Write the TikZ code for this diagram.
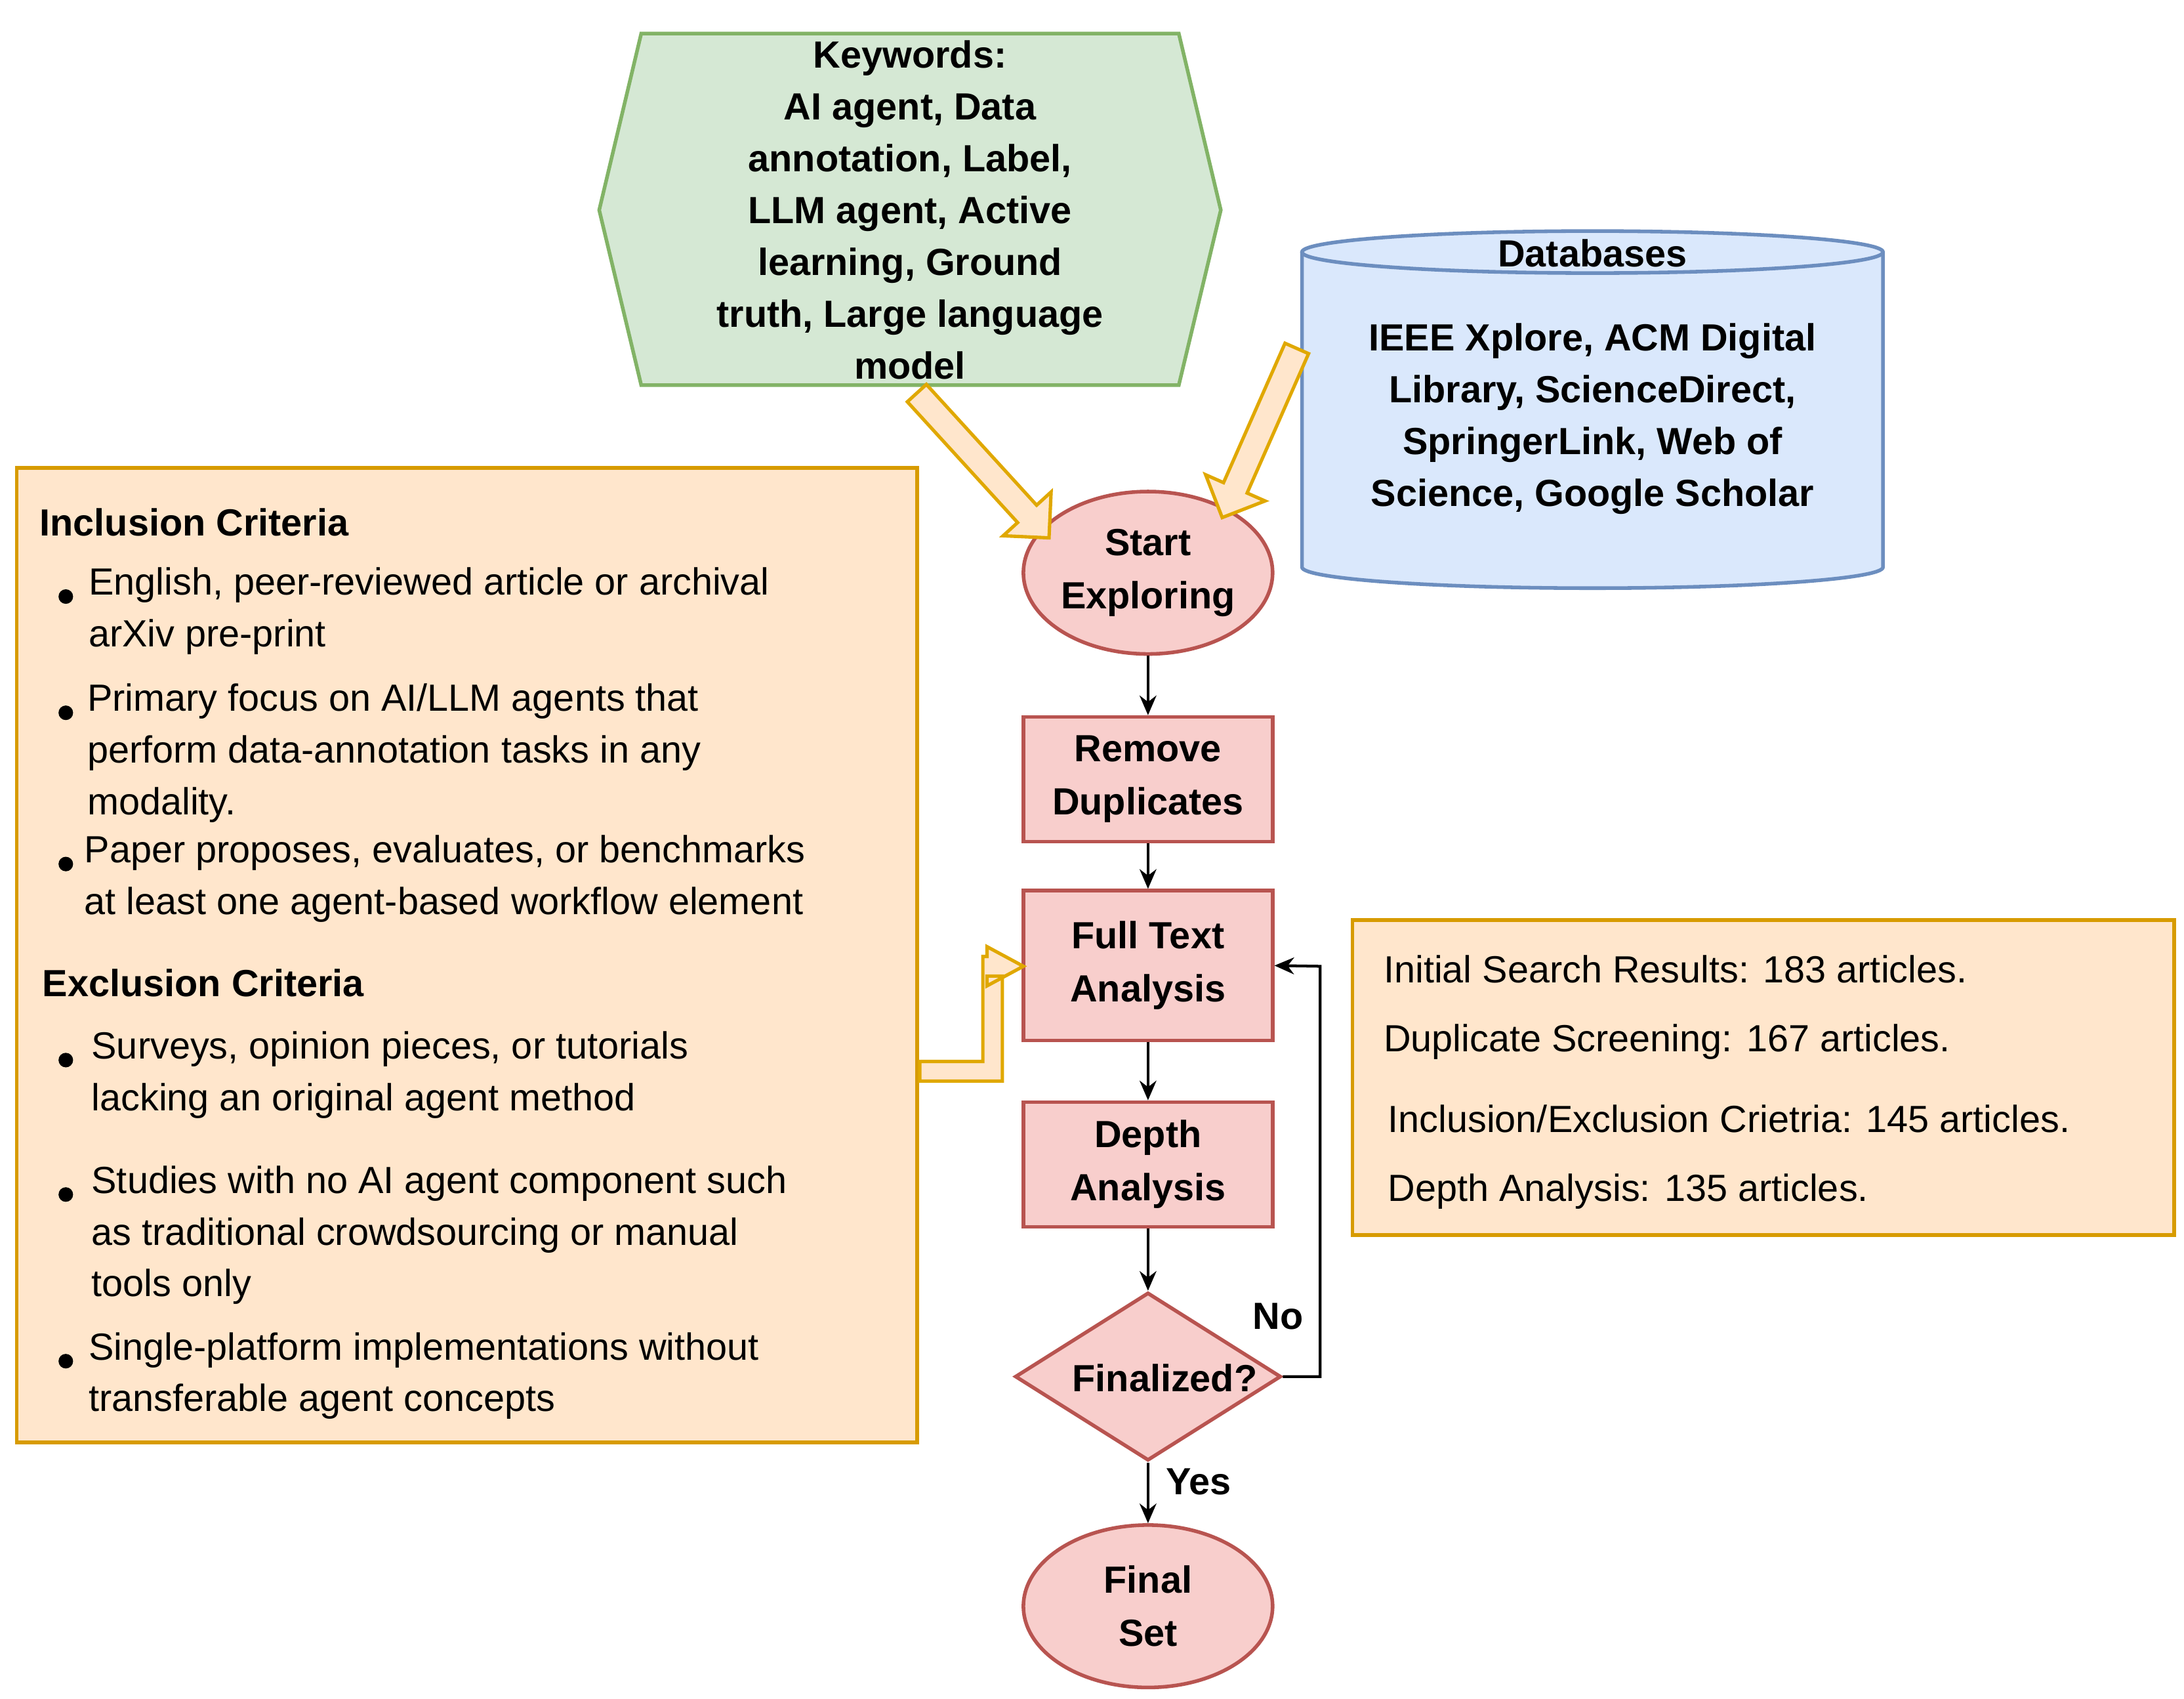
\documentclass[tikz,border=0pt]{standalone}
\usepackage{fontspec}
\setmainfont{Liberation Sans}
\usetikzlibrary{shapes.geometric,shapes.arrows,arrows.meta}
\begin{document}
\begin{tikzpicture}[x=0.5pt,y=-0.5pt,
  red/.style={draw=red!50!black!70!white,draw=rd,fill=rf,line width=1.3pt},
  box/.style={draw=ob,fill=of,line width=1.3pt},
  fat/.style={draw=ab,fill=of,line width=1.2pt},
  txt/.style={font=\fontsize{13.5}{18.5}\selectfont,inner sep=0pt},
  btxt/.style={font=\bfseries\fontsize{13.5}{19}\selectfont,inner sep=0pt,align=center},
  con/.style={-{Stealth[length=7pt,width=6pt]},line width=1pt}]
\definecolor{rd}{HTML}{B85450}\definecolor{rf}{HTML}{F8CECC}
\definecolor{ob}{HTML}{D79B00}\definecolor{of}{HTML}{FFE6CC}
\definecolor{ab}{HTML}{E0A800}
\definecolor{gb}{HTML}{82B366}\definecolor{gf}{HTML}{D5E8D4}
\definecolor{bb}{HTML}{6C8EBF}\definecolor{bf}{HTML}{DAE8FC}
\useasboundingbox (0,0) rectangle (1560,1213);
% keywords hexagon
\draw[draw=gb,fill=gf,line width=1.3pt] (428,150) -- (458,24) -- (842,24) -- (872,150) -- (842,275) -- (458,275) -- cycle;
\node[btxt,font=\bfseries\fontsize{13.5}{18.5}\selectfont] (kw) at (650,150) {Keywords:\\AI agent, Data\\annotation, Label,\\LLM agent, Active\\learning, Ground\\truth, Large language\\model};
% database cylinder
\draw[draw=bb,fill=bf,line width=1.3pt] (930,180) -- (930,405) arc[start angle=180,end angle=360,x radius=103.75pt,y radius=7.5pt] -- (1345,180);
\draw[draw=bb,fill=bf,line width=1.3pt] (1137.5,180) ellipse[x radius=103.75pt,y radius=7.5pt];
\node[btxt] (dbt) at (1137.5,181) {Databases};
\node[btxt,font=\bfseries\fontsize{13.5}{18.5}\selectfont] (db) at (1137.5,299) {IEEE Xplore, ACM Digital\\Library, ScienceDirect,\\SpringerLink, Web of\\Science, Google Scholar};
% flow nodes
\node[red,ellipse,minimum width=89pt,minimum height=58pt,btxt] (start) at (820,409) {Start\\Exploring};
\node[red,rectangle,minimum width=89pt,minimum height=44.5pt,btxt] (rem) at (820,556.5) {Remove\\Duplicates};
\node[red,rectangle,minimum width=89pt,minimum height=53.5pt,btxt] (full) at (820,689.5) {Full Text\\Analysis};
\node[red,rectangle,minimum width=89pt,minimum height=44.5pt,btxt] (depth) at (820,831.5) {Depth\\Analysis};
\node[red,diamond,aspect=1.58,minimum width=95pt,minimum height=60pt,inner sep=0pt,btxt] (fin) at (820,983) {};
\node[btxt] (fint) at (832,984) {Finalized?};
\node[red,ellipse,minimum width=89pt,minimum height=58pt,btxt] (final) at (820,1147) {Final\\Set};
% connectors
\draw[con] (start) -- (rem);
\draw[con] (rem) -- (full);
\draw[con] (full) -- (depth);
\draw[con] (depth) -- (fin);
\draw[con] (fin) -- (final);
\coordinate (c1) at (943,983);
\coordinate (c2) at (943,690);
\draw[con] (fin.east) -- (c1) -- (c2) -- (full.east);
\node[btxt] (no) at (913,940) {No};
\node[btxt] (yes) at (856,1058) {Yes};
% inclusion box
\draw[box] (12,334) rectangle (655,1030);
\node[btxt,anchor=west] (inc) at (28,373) {Inclusion Criteria};
\node[btxt,anchor=west] (exc) at (30,702) {Exclusion Criteria};
\tikzset{bl/.style={txt,anchor=north west,align=left}}
\foreach \bx/\tx/\ty/\t [count=\i] in {
 47/63/405/{English, peer-reviewed article or archival\\arXiv pre-print},
 47/62/488/{Primary focus on AI/LLM agents that\\perform data-annotation tasks in any\\modality.},
 47/60/596/{Paper proposes, evaluates, or benchmarks\\at least one agent-based workflow element},
 47/65/736/{Surveys, opinion pieces, or tutorials\\lacking an original agent method},
 47/65/832/{Studies with no AI agent component such\\as traditional crowdsourcing or manual\\tools only},
 47/63/951/{Single-platform implementations without\\transferable agent concepts}}{
 \node[bl] (b\i) at (\tx,\ty) {\t};
 \fill (\bx,\ty+21) circle (2.6pt);
}
% stats box
\draw[box] (966,657) rectangle (1553,882);
\node[txt,anchor=west] (s1) at (988,692) {Initial Search Results: 183 articles.};
\node[txt,anchor=west] (s2) at (988,744) {Duplicate Screening: 167 articles.};
\node[txt,anchor=west] (s3) at (991,799) {Inclusion/Exclusion Crietria: 145 articles.};
\node[txt,anchor=west] (s4) at (991,851) {Depth Analysis: 135 articles.};
% fat arrows
\node[fat,single arrow,minimum width=22pt,minimum height=70pt,inner xsep=0pt,inner ysep=4pt,single arrow head extend=7pt,rotate=-47.6] (a1) at (699,329) {};
\node[fat,single arrow,minimum width=22pt,minimum height=66pt,inner xsep=0pt,inner ysep=4pt,single arrow head extend=7pt,rotate=-113.8] (a2) at (901.5,305) {};
\draw[fat] (657,758) -- (702,758) -- (702,683) -- (705,683) -- (705,676) -- (731,690) -- (705,704) -- (705,697) -- (716,697) -- (716,772) -- (657,772) -- cycle;
\end{tikzpicture}
\end{document}
